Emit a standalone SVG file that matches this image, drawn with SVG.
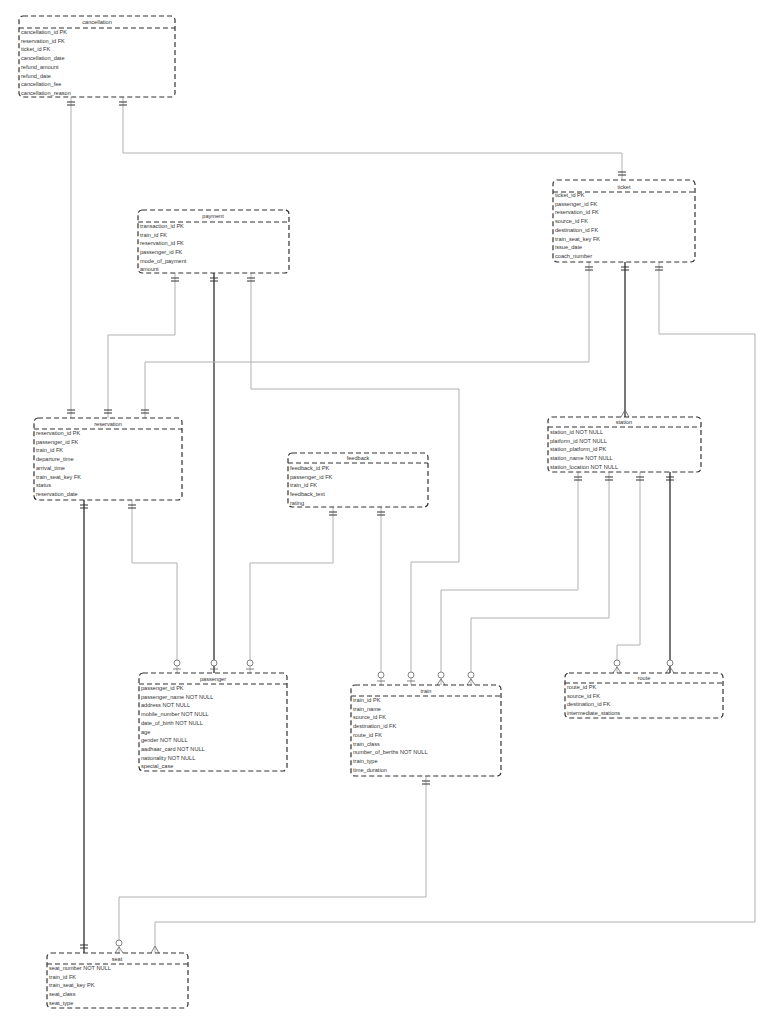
<svg xmlns="http://www.w3.org/2000/svg" width="768" height="1024" viewBox="0 0 768 1024">
<style>
.box{fill:#fff;stroke:#333;stroke-width:1.2;stroke-dasharray:5 3}
.hd{stroke:#333;stroke-width:1.2;stroke-dasharray:5 3}
text{font-family:"Liberation Sans",Arial,sans-serif;font-size:5.6px;fill:#333}
.t{text-anchor:middle}
.c{fill:none;stroke:#b0b0b0;stroke-width:1}
.d{fill:none;stroke:#555;stroke-width:1.6}
</style>
<defs>
<marker id="one" markerUnits="userSpaceOnUse" viewBox="0 0 20 12" refX="20" refY="6" markerWidth="20" markerHeight="12" orient="auto-start-reverse"><path d="M12 2V10M15 2V10" stroke="#333" stroke-width="1"/></marker>
<marker id="zo" markerUnits="userSpaceOnUse" viewBox="0 0 20 12" refX="20" refY="6" markerWidth="20" markerHeight="12" orient="auto-start-reverse"><circle cx="10" cy="6" r="3" fill="#fff" stroke="#666" stroke-width="0.8"/><path d="M16 2V10" stroke="#666" stroke-width="0.8"/></marker>
<marker id="zm" markerUnits="userSpaceOnUse" viewBox="0 0 20 12" refX="20" refY="6" markerWidth="20" markerHeight="12" orient="auto-start-reverse"><circle cx="10" cy="6" r="3" fill="#fff" stroke="#666" stroke-width="0.8"/><path d="M20 2L14 6L20 10" fill="none" stroke="#666" stroke-width="0.8"/></marker>
<marker id="mm" markerUnits="userSpaceOnUse" viewBox="0 0 20 12" refX="20" refY="6" markerWidth="20" markerHeight="12" orient="auto-start-reverse"><path d="M20 2L13 6L20 10" fill="none" stroke="#666" stroke-width="0.8"/></marker>
</defs>
<g id="connectors">
<path class="c" d="M71 97V418" marker-start="url(#one)" marker-end="url(#one)"/>
<path class="c" d="M123 97V153H622V180" marker-start="url(#one)" marker-end="url(#one)"/>
<path class="c" d="M175 273V335H108V418" marker-start="url(#one)" marker-end="url(#one)"/>
<path class="d" d="M214 273V673" marker-start="url(#one)" marker-end="url(#zo)"/>
<path class="c" d="M251 273V389H459V562H411V685" marker-start="url(#one)" marker-end="url(#zo)"/>
<path class="c" d="M589 262V362H145V418" marker-start="url(#one)" marker-end="url(#one)"/>
<path class="d" d="M625 262V417" marker-start="url(#one)" marker-end="url(#mm)"/>
<path class="c" d="M659 262V334H755V922H155V953" marker-start="url(#one)" marker-end="url(#mm)"/>
<path class="d" d="M84 500V953" marker-start="url(#one)" marker-end="url(#one)"/>
<path class="c" d="M132 500V563H177V673" marker-start="url(#one)" marker-end="url(#zo)"/>
<path class="c" d="M333 507V563H250V673" marker-start="url(#one)" marker-end="url(#zo)"/>
<path class="c" d="M381 507V685" marker-start="url(#one)" marker-end="url(#zo)"/>
<path class="c" d="M578 472V590H441V685" marker-start="url(#one)" marker-end="url(#zm)"/>
<path class="c" d="M609 472V618H471V685" marker-start="url(#one)" marker-end="url(#zm)"/>
<path class="c" d="M640 472V645H617V673" marker-start="url(#one)" marker-end="url(#zm)"/>
<path class="d" d="M670 472V673" marker-start="url(#one)" marker-end="url(#zm)"/>
<path class="c" d="M426 776V897H119V953" marker-start="url(#one)" marker-end="url(#zm)"/>
</g>
<g id="cancellation">
<rect class="box" x="19" y="16" width="156" height="81" rx="4"/><line class="hd" x1="19" y1="28" x2="175" y2="28"/>
<text class="t" x="97" y="24">cancellation</text>
<text x="21" y="34">cancellation_id PK</text><text x="21" y="42.7">reservation_id FK</text><text x="21" y="51.4">ticket_id FK</text><text x="21" y="60.1">cancellation_date</text><text x="21" y="68.8">refund_amount</text><text x="21" y="77.5">refund_date</text><text x="21" y="86.2">cancellation_fee</text><text x="21" y="94.9">cancellation_reason</text>
</g>
<g id="ticket">
<rect class="box" x="553" y="180" width="142" height="82" rx="4"/><line class="hd" x1="553" y1="192" x2="695" y2="192"/>
<text class="t" x="624" y="189">ticket</text>
<text x="555" y="197">ticket_id PK</text><text x="555" y="205.7">passenger_id FK</text><text x="555" y="214.4">reservation_id FK</text><text x="555" y="223.1">source_id FK</text><text x="555" y="231.8">destination_id FK</text><text x="555" y="240.5">train_seat_key FK</text><text x="555" y="249.2">issue_date</text><text x="555" y="257.9">coach_number</text>
</g>
<g id="payment">
<rect class="box" x="138" y="210" width="151" height="63" rx="4"/><line class="hd" x1="138" y1="222" x2="289" y2="222"/>
<text class="t" x="213" y="218">payment</text>
<text x="140" y="228">transaction_id PK</text><text x="140" y="236.7">train_id FK</text><text x="140" y="245.4">reservation_id FK</text><text x="140" y="254.1">passenger_id FK</text><text x="140" y="262.8">mode_of_payment</text><text x="140" y="271.2">amount</text>
</g>
<g id="reservation">
<rect class="box" x="34" y="418" width="148" height="82" rx="4"/><line class="hd" x1="34" y1="429" x2="182" y2="429"/>
<text class="t" x="108" y="426">reservation</text>
<text x="36" y="435">reservation_id PK</text><text x="36" y="443.7">passenger_id FK</text><text x="36" y="452.4">train_id FK</text><text x="36" y="461.1">departure_time</text><text x="36" y="469.8">arrival_time</text><text x="36" y="478.5">train_seat_key FK</text><text x="36" y="487.2">status</text><text x="36" y="495.9">reservation_date</text>
</g>
<g id="station">
<rect class="box" x="548" y="417" width="153" height="55" rx="4"/><line class="hd" x1="548" y1="427" x2="701" y2="427"/>
<text class="t" x="624" y="424">station</text>
<text x="550" y="434">station_id NOT NULL</text><text x="550" y="442.7">platform_id NOT NULL</text><text x="550" y="451.4">station_platform_id PK</text><text x="550" y="460.1">station_name NOT NULL</text><text x="550" y="468.8">station_location NOT NULL</text>
</g>
<g id="feedback">
<rect class="box" x="288" y="453" width="140" height="54" rx="4"/><line class="hd" x1="288" y1="463" x2="428" y2="463"/>
<text class="t" x="358" y="460">feedback</text>
<text x="290" y="470">feedback_id PK</text><text x="290" y="478.7">passenger_id FK</text><text x="290" y="487.4">train_id FK</text><text x="290" y="496.1">feedback_text</text><text x="290" y="504.6">rating</text>
</g>
<g id="passenger">
<rect class="box" x="139" y="673" width="148" height="98" rx="4"/><line class="hd" x1="139" y1="684" x2="287" y2="684"/>
<text class="t" x="213" y="681">passenger</text>
<text x="141" y="690">passenger_id PK</text><text x="141" y="698.7">passenger_name NOT NULL</text><text x="141" y="707.4">address NOT NULL</text><text x="141" y="716.1">mobile_number NOT NULL</text><text x="141" y="724.8">date_of_birth NOT NULL</text><text x="141" y="733.5">age</text><text x="141" y="742.2">gender NOT NULL</text><text x="141" y="750.9">aadhaar_card NOT NULL</text><text x="141" y="759.6">nationality NOT NULL</text><text x="141" y="768.3">special_case</text>
</g>
<g id="train">
<rect class="box" x="351" y="685" width="150" height="91" rx="4"/><line class="hd" x1="351" y1="696" x2="501" y2="696"/>
<text class="t" x="426" y="693">train</text>
<text x="353" y="702">train_id PK</text><text x="353" y="710.7">train_name</text><text x="353" y="719.4">source_id FK</text><text x="353" y="728.1">destination_id FK</text><text x="353" y="736.8">route_id FK</text><text x="353" y="745.5">train_class</text><text x="353" y="754.2">number_of_berths NOT NULL</text><text x="353" y="762.9">train_type</text><text x="353" y="771.6">time_duration</text>
</g>
<g id="route">
<rect class="box" x="565" y="673" width="158" height="45" rx="4"/><line class="hd" x1="565" y1="683" x2="723" y2="683"/>
<text class="t" x="644" y="680">route</text>
<text x="567" y="689">route_id PK</text><text x="567" y="697.7">source_id FK</text><text x="567" y="706.4">destination_id FK</text><text x="567" y="715.1">intermediate_stations</text>
</g>
<g id="seat">
<rect class="box" x="47" y="953" width="141" height="55" rx="4"/><line class="hd" x1="47" y1="964" x2="188" y2="964"/>
<text class="t" x="117" y="961">seat</text>
<text x="49" y="970">seat_number NOT NULL</text><text x="49" y="978.7">train_id FK</text><text x="49" y="987.4">train_seat_key PK</text><text x="49" y="996.1">seat_class</text><text x="49" y="1004.8">seat_type</text>
</g>
</svg>
